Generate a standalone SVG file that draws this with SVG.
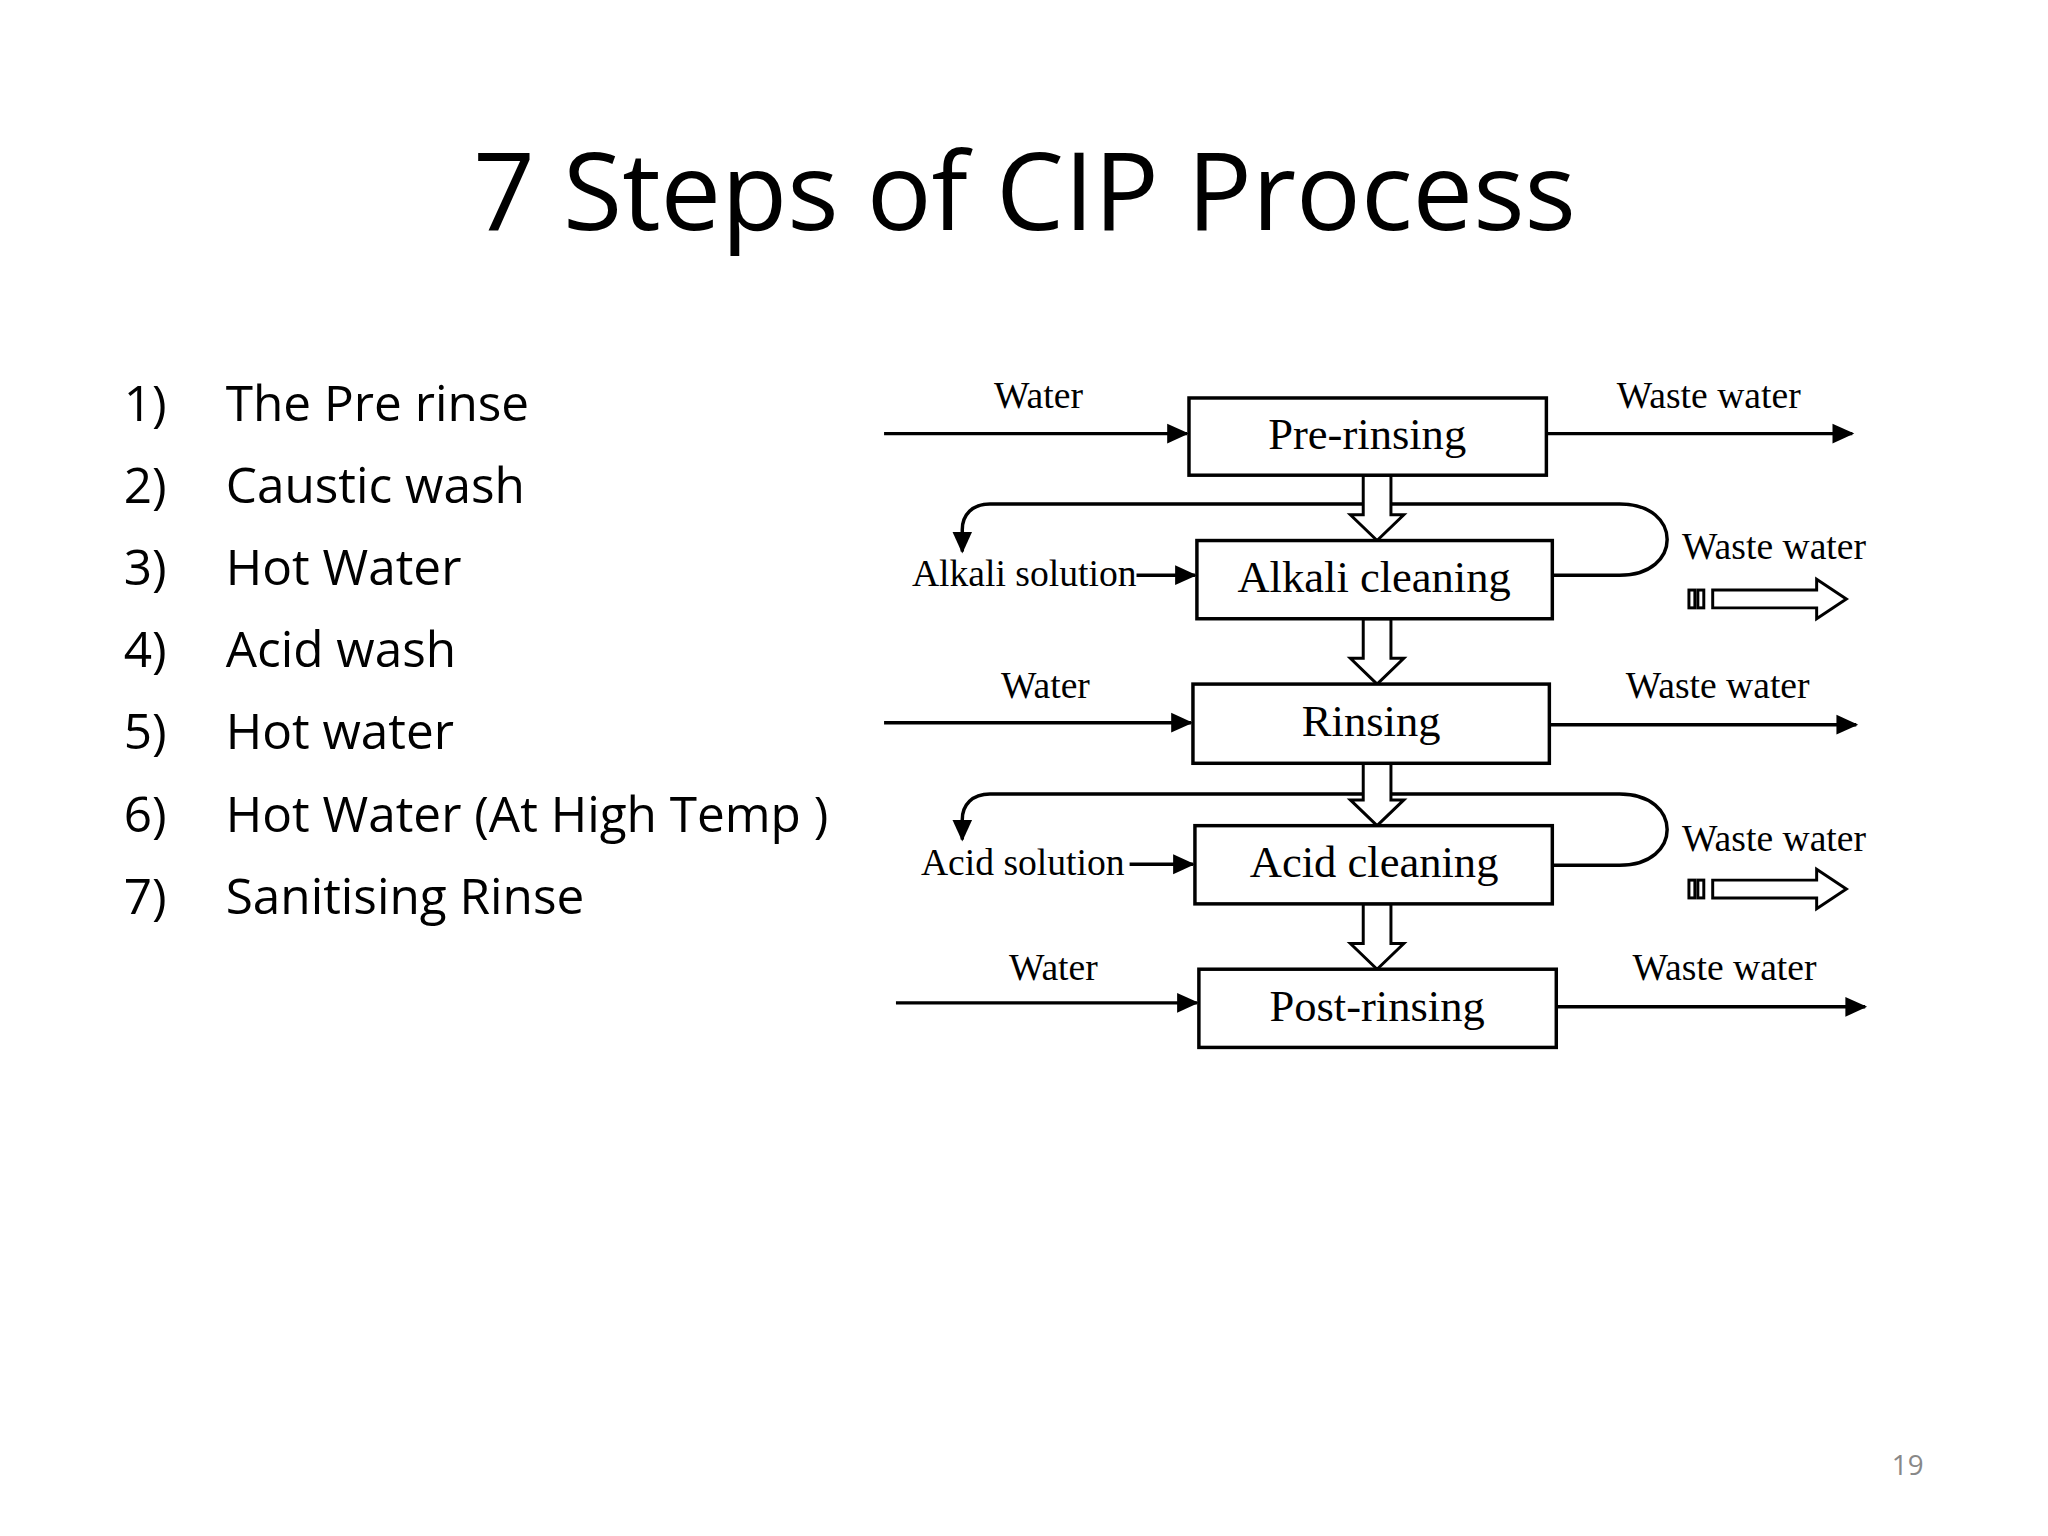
<svg xmlns="http://www.w3.org/2000/svg" width="2048" height="1536" viewBox="0 0 2048 1536">
<defs>
<marker id="ahb" markerWidth="24" markerHeight="24" refX="20" refY="12" orient="auto" markerUnits="userSpaceOnUse" viewBox="0 0 24 24"><path d="M0,2 L22,12 L0,22 z" fill="#000"/></marker>
</defs>
<style>
.t{font-family:"Open Sans","Liberation Sans",sans-serif;fill:#000}
.box{fill:#fff;stroke:#000;stroke-width:3.5}
.bl{font-family:"Liberation Serif",serif;font-size:45px;text-anchor:middle}
.sl{font-family:"Liberation Serif",serif;font-size:38px}
.ln{stroke:#000;stroke-width:3.5;fill:none}
.hol{fill:#fff;stroke:#000;stroke-width:3}
</style>
<rect width="2048" height="1536" fill="#fff"/>
<g transform="scale(0.99)">
<text class="t" x="1035" y="232" font-size="109" text-anchor="middle">7 Steps of CIP Process</text>
<g id="list" class="t" font-size="50">
<text x="125" y="425">1)</text><text x="228" y="425">The Pre rinse</text>
<text x="125" y="508">2)</text><text x="228" y="508">Caustic wash</text>
<text x="125" y="591">3)</text><text x="228" y="591">Hot Water</text>
<text x="125" y="674">4)</text><text x="228" y="674">Acid wash</text>
<text x="125" y="757">5)</text><text x="228" y="757">Hot water</text>
<text x="125" y="840">6)</text><text x="228" y="840">Hot Water (At High Temp )</text>
<text x="125" y="923">7)</text><text x="228" y="923">Sanitising Rinse</text>
</g>
<g id="connectors">
<path class="ln" d="M893,438 H1199" marker-end="url(#ahb)"/>
<path class="ln" d="M1562,438 H1871" marker-end="url(#ahb)"/>
<path class="ln" d="M893,730 H1203" marker-end="url(#ahb)"/>
<path class="ln" d="M1565,732 H1875" marker-end="url(#ahb)"/>
<path class="ln" d="M905,1013 H1209" marker-end="url(#ahb)"/>
<path class="ln" d="M1572,1017 H1884" marker-end="url(#ahb)"/>
<path class="ln" d="M1148,581 H1207" marker-end="url(#ahb)"/>
<path class="ln" d="M1141,873 H1205" marker-end="url(#ahb)"/>
<path class="ln" d="M1568,581 H1636 C1700,581 1700,509 1636,509 H1000 C982,509 972,520 972,535 V557" marker-end="url(#ahb)"/>
<path class="ln" d="M1568,874 H1636 C1700,874 1700,802 1636,802 H1000 C982,802 972,813 972,828 V848" marker-end="url(#ahb)"/>
<g id="downs">
<path class="hol" d="M1377,480 V520 H1364 L1391,546 L1418,520 H1405 V480 z"/>
<path class="hol" d="M1377,625 V665 H1364 L1391,691 L1418,665 H1405 V625 z"/>
<path class="hol" d="M1377,771 V808 H1364 L1391,834 L1418,808 H1405 V771 z"/>
<path class="hol" d="M1377,913 V953 H1364 L1391,979 L1418,953 H1405 V913 z"/>
</g>
<g id="hollowRight">
<path class="hol" d="M1730,596 H1835 V585 L1865,605 L1835,625 V614 H1730 z"/>
<rect x="1706" y="596" width="6" height="18" class="hol"/><rect x="1715" y="596" width="6" height="18" class="hol"/>
<path class="hol" d="M1730,889 H1835 V878 L1865,898 L1835,918 V907 H1730 z"/>
<rect x="1706" y="889" width="6" height="18" class="hol"/><rect x="1715" y="889" width="6" height="18" class="hol"/>
</g>
</g>
<g id="n1"><rect class="box" x="1201" y="402" width="361" height="78"/><text class="bl" x="1381" y="454">Pre-rinsing</text></g>
<g id="n2"><rect class="box" x="1209" y="546" width="359" height="79"/><text class="bl" x="1388" y="598">Alkali cleaning</text></g>
<g id="n3"><rect class="box" x="1205" y="691" width="360" height="80"/><text class="bl" x="1385" y="743">Rinsing</text></g>
<g id="n4"><rect class="box" x="1207" y="834" width="361" height="79"/><text class="bl" x="1388" y="886">Acid cleaning</text></g>
<g id="n5"><rect class="box" x="1211" y="979" width="361" height="79"/><text class="bl" x="1391" y="1031">Post-rinsing</text></g>
<g id="labels" class="sl">
<text x="1049" y="412" text-anchor="middle">Water</text>
<text x="1726" y="412" text-anchor="middle">Waste water</text>
<text x="1056" y="705" text-anchor="middle">Water</text>
<text x="1735" y="705" text-anchor="middle">Waste water</text>
<text x="1064" y="990" text-anchor="middle">Water</text>
<text x="1742" y="990" text-anchor="middle">Waste water</text>
<text x="1148" y="592" text-anchor="end">Alkali solution</text>
<text x="1136" y="884" text-anchor="end">Acid solution</text>
<text x="1792" y="565" text-anchor="middle">Waste water</text>
<text x="1792" y="860" text-anchor="middle">Waste water</text>
</g>
<text class="t" x="1927" y="1490" font-size="28" style="fill:#888" text-anchor="middle">19</text>
</g>
</svg>
